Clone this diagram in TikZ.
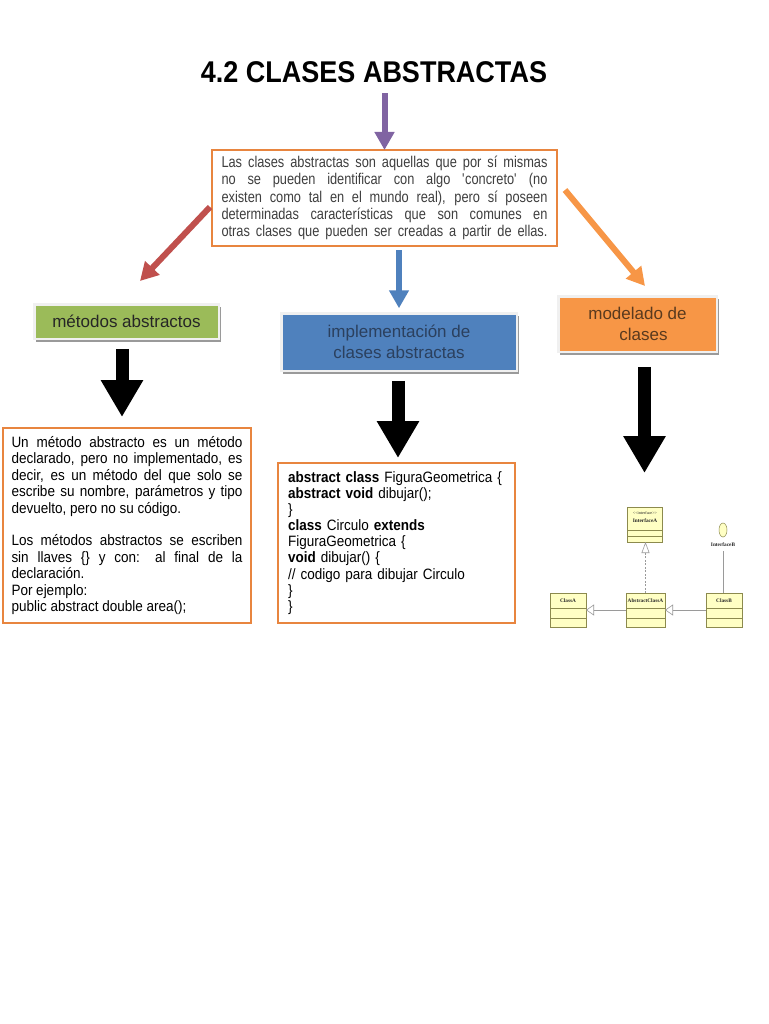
\documentclass[tikz,border=0pt]{standalone}
\usepackage{fontspec}
\setmainfont{Liberation Sans}
\newfontfamily\nar[FakeStretch=0.9]{Liberation Sans}
\newfontfamily\narr[FakeStretch=0.82]{Liberation Sans}
\newfontfamily\umlf{Liberation Serif}
\usetikzlibrary{arrows.meta,shadows,shapes.geometric}
\definecolor{boxor}{HTML}{E8853F}
\definecolor{txtgray}{HTML}{3F3F3F}
\definecolor{apurple}{HTML}{8064A2}
\definecolor{ared}{HTML}{C0504D}
\definecolor{aorange}{HTML}{F79646}
\definecolor{ablue}{HTML}{4F81BD}
\definecolor{fgreen}{HTML}{9BBB59}
\definecolor{fblue}{HTML}{4F81BD}
\definecolor{forange}{HTML}{F79646}
\definecolor{tgreen}{HTML}{262626}
\definecolor{tblue}{HTML}{2B405E}
\definecolor{torange}{HTML}{5A3A1E}
\definecolor{shgray}{HTML}{9A9A9A}
\definecolor{umly}{HTML}{FFFFC4}
\definecolor{umlb}{HTML}{8C8A4E}
\definecolor{umll}{HTML}{9A9A9A}
\begin{document}
\begin{tikzpicture}[x=1pt,y=-1pt,
  txtbox/.style={draw=boxor, line width=1.3pt, fill=white, outer sep=0pt},
  cbox/.style={draw=black!6, line width=2.5pt, outer sep=0pt, align=center,
     font=\fontsize{17}{21}\selectfont,
     drop shadow={shadow xshift=2pt,shadow yshift=-3pt,fill=shgray,opacity=1}},
  colarrow/.style={line width=6pt, -{Triangle[length=18pt,width=19pt]}},
  blkarrow/.style={line width=13pt, black, -{Triangle[length=37pt,width=40pt]}},
  umlc/.style={draw=umlb, fill=umly, line width=0.5pt, inner sep=0pt, outer sep=0pt},
  umlt/.style={font=\umlf\bfseries\fontsize{5.3}{6}\selectfont, inner sep=0pt, text=black!85},
  gen/.style={draw=umll, line width=0.6pt, -{Triangle[length=8pt,width=11pt,fill=white]}},
  real/.style={draw=umll, line width=0.6pt, dash pattern=on 2pt off 1.5pt, -{Triangle[length=11pt,width=8pt,fill=white]}}
]
\fill[white] (0,0) rectangle (768,1024);
\useasboundingbox (0,0) rectangle (768,1024);

% title
\node[font=\nar\bfseries\fontsize{30}{34}\selectfont, anchor=base, inner sep=0pt] (title) at (374,83) {4.2 CLASES ABSTRACTAS};

% main definition box
\node[txtbox, align=justify, text width=326pt, inner xsep=9.5pt, minimum height=96pt, text=txtgray,
      font=\narr\fontsize{15.6}{17.4}\selectfont] (main) at (384.5,198) {\parindent=0pt
Las clases abstractas son aquellas que por sí mismas\linebreak
no se pueden identificar con algo \textquotesingle concreto\textquotesingle{} (no\linebreak
existen como tal en el mundo real), pero sí poseen\linebreak
determinadas características que son comunes en\linebreak
otras clases que pueden ser creadas a partir de ellas.\parfillskip=0pt\par};

% coloured boxes
\node[cbox, fill=fgreen, text=tgreen, minimum width=184.5pt, minimum height=34.5pt] (green) at (126.5,321.5) {métodos abstractos};
\node[cbox, fill=fblue, text=tblue, minimum width=235.5pt, minimum height=57.5pt] (blue) at (399,342) {implementación de\\ clases abstractas};
\node[cbox, fill=forange, text=torange, minimum width=158.5pt, minimum height=55.5pt] (orange) at (637.5,324) {modelado de\\ \hspace*{12pt}clases};

% left text box
\node[txtbox, align=justify, text width=231pt, inner xsep=8.5pt, minimum height=195pt, text=black,
      font=\nar\fontsize{15}{16.4}\selectfont] (left) at (127,525.5) {\parindent=0pt
Un método abstracto es un método\linebreak
declarado, pero no implementado, es\linebreak
decir, es un método del que solo se\linebreak
escribe su nombre, parámetros y tipo\linebreak
devuelto, pero no su código.\par
\mbox{}\par
Los métodos abstractos se escriben\linebreak
sin llaves \{\} y con: al final de la\linebreak
declaración.\par
Por ejemplo:\par
public abstract double area();};

% code box
\node[txtbox, align=left, text width=217pt, inner xsep=10pt, minimum height=160pt, text=black,
      font=\nar\fontsize{15}{16.1}\selectfont] (code) at (396.5,543) {%
\textbf{abstract class} FiguraGeometrica \{\\
\textbf{abstract void} dibujar();\\
\}\\
\textbf{class} Circulo \textbf{extends}\\
FiguraGeometrica \{\\
\textbf{void} dibujar() \{\\
// codigo para dibujar Circulo\\
\}\\
\}};

% UML diagram
\node[umlc, minimum width=35pt, minimum height=35pt] (ia) at (645,524.5) {};
\node[umlt, font=\umlf\fontsize{4.2}{5}\selectfont] (iast) at (645,513) {<<interface>>};
\node[umlt] (ian) at (645,520.5) {InterfaceA};
\draw[umlb, line width=0.5pt] ([yshift=-23pt]ia.north west) -- ([yshift=-23pt]ia.north east);
\draw[umlb, line width=0.5pt] ([yshift=-29pt]ia.north west) -- ([yshift=-29pt]ia.north east);

\node[umlc, minimum width=36pt, minimum height=34pt] (ca) at (568,610) {};
\node[umlt] (can) at (568,600.5) {ClassA};
\node[umlc, minimum width=39pt, minimum height=34pt] (ac) at (645.5,610) {};
\node[umlt] (acn) at (645.5,600.5) {AbstractClassA};
\node[umlc, minimum width=36pt, minimum height=34pt] (cb) at (724,610) {};
\node[umlt] (cbn) at (724,600.5) {ClassB};
\foreach \n in {ca,ac,cb}{
  \draw[umlb, line width=0.5pt] ([yshift=-15pt]\n.north west) -- ([yshift=-15pt]\n.north east);
  \draw[umlb, line width=0.5pt] ([yshift=-25pt]\n.north west) -- ([yshift=-25pt]\n.north east);
}
\node[ellipse, umlc, minimum width=8pt, minimum height=14pt] (ib) at (723,530) {};
\node[umlt] (ibl) at (723,545) {InterfaceB};
\draw[umll, line width=0.6pt] ([yshift=-4pt]ibl.south) -- (ibl.south |- cb.north);
\draw[real] (ac.north) -- (ac.north |- ia.south);
\draw[gen] (ac.west) -- (ca.east);
\draw[gen] (cb.west) -- (ac.east);
\coordinate (umltop) at (644.5,473);

% coloured arrows
\coordinate (redtip) at (140,281);
\coordinate (orangetip) at (645,286);
\draw[colarrow, apurple, shorten <=10pt] (main.north |- title.south) -- (main.north);
\draw[colarrow, ared] ([xshift=-2pt,yshift=-9pt]main.west) -- (redtip);
\draw[colarrow, aorange] ([xshift=8pt,yshift=8pt]main.east) -- (orangetip);
\draw[colarrow, ablue, line width=6.5pt, shorten <=4pt, shorten >=5pt] (blue.north |- main.south) -- (blue.north);

% black arrows
\draw[blkarrow, shorten <=10pt, shorten >=11pt] ([xshift=-4.5pt]green.south) -- ([xshift=-4.5pt]green.south |- left.north);
\draw[blkarrow, shorten <=10pt, shorten >=5pt] ([xshift=-1pt]blue.south) -- ([xshift=-1pt]blue.south |- code.north);
\draw[blkarrow, shorten <=15pt] (orange.south -| umltop) -- (umltop);
\end{tikzpicture}
\end{document}
